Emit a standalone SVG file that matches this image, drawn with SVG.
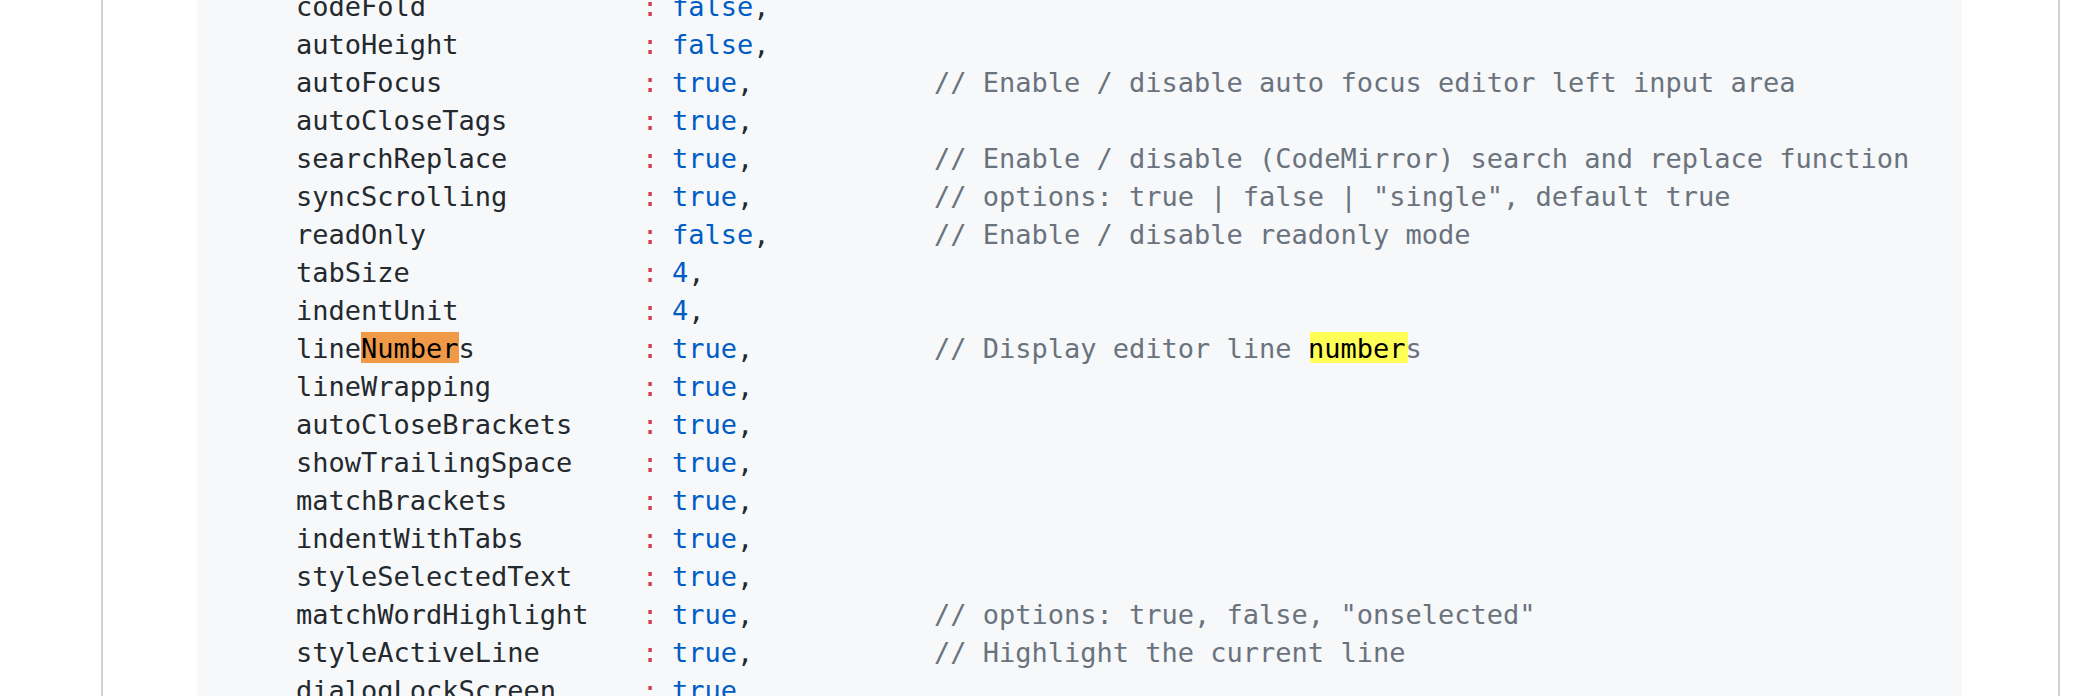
<svg xmlns="http://www.w3.org/2000/svg" width="2092" height="696" viewBox="0 0 2092 696">
<style>
text{font-family:"DejaVu Sans Mono",monospace;font-size:27px;white-space:pre}
.k{fill:#24292e}.c{fill:#d73a49}.v{fill:#005cc5}.m{fill:#6a737d}.h{fill:#000}
</style>
<rect width="2092" height="696" fill="#fff"/>
<rect x="101" y="0" width="2" height="696" fill="#d0d4d9"/>
<rect x="2058" y="0" width="2" height="696" fill="#d0d4d9"/>
<rect x="197" y="0" width="1765" height="696" fill="#f6f8fa"/>
<rect x="361" y="332" width="98" height="31" fill="#f09a48"/>
<rect x="1310" y="332" width="98" height="31" fill="#ffff55"/>
<g id="code">
<text x="296" y="16"><tspan class="k">codeFold</tspan></text><text x="642" y="16" class="c">:</text><text x="672" y="16"><tspan class="v">false</tspan><tspan class="k">,</tspan></text>
<text x="296" y="54" class="k">autoHeight</text><text x="642" y="54" class="c">:</text><text x="672" y="54"><tspan class="v">false</tspan><tspan class="k">,</tspan></text>
<text x="296" y="92" class="k">autoFocus</text><text x="642" y="92" class="c">:</text><text x="672" y="92"><tspan class="v">true</tspan><tspan class="k">,</tspan></text><text x="934" y="92" class="m">// Enable / disable auto focus editor left input area</text>
<text x="296" y="130" class="k">autoCloseTags</text><text x="642" y="130" class="c">:</text><text x="672" y="130"><tspan class="v">true</tspan><tspan class="k">,</tspan></text>
<text x="296" y="168" class="k">searchReplace</text><text x="642" y="168" class="c">:</text><text x="672" y="168"><tspan class="v">true</tspan><tspan class="k">,</tspan></text><text x="934" y="168" class="m">// Enable / disable (CodeMirror) search and replace function</text>
<text x="296" y="206" class="k">syncScrolling</text><text x="642" y="206" class="c">:</text><text x="672" y="206"><tspan class="v">true</tspan><tspan class="k">,</tspan></text><text x="934" y="206" class="m">// options: true | false | "single", default true</text>
<text x="296" y="244" class="k">readOnly</text><text x="642" y="244" class="c">:</text><text x="672" y="244"><tspan class="v">false</tspan><tspan class="k">,</tspan></text><text x="934" y="244" class="m">// Enable / disable readonly mode</text>
<text x="296" y="282" class="k">tabSize</text><text x="642" y="282" class="c">:</text><text x="672" y="282"><tspan class="v">4</tspan><tspan class="k">,</tspan></text>
<text x="296" y="320" class="k">indentUnit</text><text x="642" y="320" class="c">:</text><text x="672" y="320"><tspan class="v">4</tspan><tspan class="k">,</tspan></text>
<text x="296" y="358" class="k">line<tspan class="h">Number</tspan>s</text><text x="642" y="358" class="c">:</text><text x="672" y="358"><tspan class="v">true</tspan><tspan class="k">,</tspan></text><text x="934" y="358" class="m">// Display editor line <tspan class="h">number</tspan>s</text>
<text x="296" y="396" class="k">lineWrapping</text><text x="642" y="396" class="c">:</text><text x="672" y="396"><tspan class="v">true</tspan><tspan class="k">,</tspan></text>
<text x="296" y="434" class="k">autoCloseBrackets</text><text x="642" y="434" class="c">:</text><text x="672" y="434"><tspan class="v">true</tspan><tspan class="k">,</tspan></text>
<text x="296" y="472" class="k">showTrailingSpace</text><text x="642" y="472" class="c">:</text><text x="672" y="472"><tspan class="v">true</tspan><tspan class="k">,</tspan></text>
<text x="296" y="510" class="k">matchBrackets</text><text x="642" y="510" class="c">:</text><text x="672" y="510"><tspan class="v">true</tspan><tspan class="k">,</tspan></text>
<text x="296" y="548" class="k">indentWithTabs</text><text x="642" y="548" class="c">:</text><text x="672" y="548"><tspan class="v">true</tspan><tspan class="k">,</tspan></text>
<text x="296" y="586" class="k">styleSelectedText</text><text x="642" y="586" class="c">:</text><text x="672" y="586"><tspan class="v">true</tspan><tspan class="k">,</tspan></text>
<text x="296" y="624" class="k">matchWordHighlight</text><text x="642" y="624" class="c">:</text><text x="672" y="624"><tspan class="v">true</tspan><tspan class="k">,</tspan></text><text x="934" y="624" class="m">// options: true, false, "onselected"</text>
<text x="296" y="662" class="k">styleActiveLine</text><text x="642" y="662" class="c">:</text><text x="672" y="662"><tspan class="v">true</tspan><tspan class="k">,</tspan></text><text x="934" y="662" class="m">// Highlight the current line</text>
<text x="296" y="700" class="k">dialogLockScreen</text><text x="642" y="700" class="c">:</text><text x="672" y="700"><tspan class="v">true</tspan><tspan class="k">,</tspan></text>
</g>
</svg>
